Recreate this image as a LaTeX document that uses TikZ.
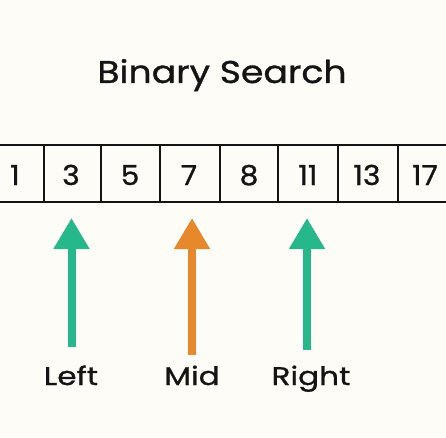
\documentclass[tikz,border=0pt]{standalone}
\usepackage{fontspec}
\setmainfont{Poppins}
\newfontfamily\titlefont{Poppins}[FakeStretch=1.15, FakeBold=1]
\newfontfamily\numfont{Poppins}[FakeStretch=1.08, FakeBold=1]
\newfontfamily\lblfont{Poppins}[FakeStretch=1.22, FakeBold=1]
\usetikzlibrary{arrows.meta}
\definecolor{bg}{HTML}{FDFCF7}
\definecolor{grn}{HTML}{26B88A}
\definecolor{org}{HTML}{E8882C}
\definecolor{ink}{HTML}{141414}
\tikzset{
  cellnum/.style={font=\numfont\fontsize{27.5}{30}\selectfont, text=ink, anchor=base},
  lbl/.style={font=\lblfont\fontsize{25.5}{30}\selectfont, text=ink, anchor=base},
  ptr/.style={line width=8pt, -{Triangle[width=34pt,length=31pt]}},
  arrline/.style={draw=ink, line width=2pt},
  divline/.style={draw=ink, line width=1.3pt}
}
\begin{document}
\begin{tikzpicture}[x=1pt,y=1pt]
\fill[bg] (0,0) rectangle (446,437);
\useasboundingbox (0,0) rectangle (446,437);
\node[font=\titlefont\fontsize{31.5}{36}\selectfont, text=ink, anchor=base] (title) at (222,354) {Binary Search};
\draw[arrline] (0,292) -- (446,292);
\draw[arrline] (0,235) -- (446,235);
\foreach \x in {44,101,160,220,278,338,398}{\draw[divline] (\x,292) -- (\x,235);}
\node[cellnum] (c0) at (15,252) {1};
\node[cellnum] (c1) at (71,252) {3};
\node[cellnum] (c2) at (130,252) {5};
\node[cellnum] (c3) at (189,252) {7};
\node[cellnum] (c4) at (249,252) {8};
\node[cellnum] (c5) at (308,252) {11};
\node[cellnum] (c6) at (367,252) {13};
\node[cellnum] (c7) at (425,252) {17};
\node[lbl] (left) at (71,52) {Left};
\node[lbl] (mid) at (192,52) {Mid};
\node[lbl] (right) at (311,52) {Right};
\coordinate (lt) at (71.5,219);
\coordinate (lb) at (71.5,90);
\coordinate (mt) at (192,219);
\coordinate (mb) at (192,82);
\coordinate (rt) at (307,219);
\coordinate (rb) at (307,87);
\draw[ptr, grn] (lb) -- (lt);
\draw[ptr, org] (mb) -- (mt);
\draw[ptr, grn] (rb) -- (rt);
\end{tikzpicture}
\end{document}
